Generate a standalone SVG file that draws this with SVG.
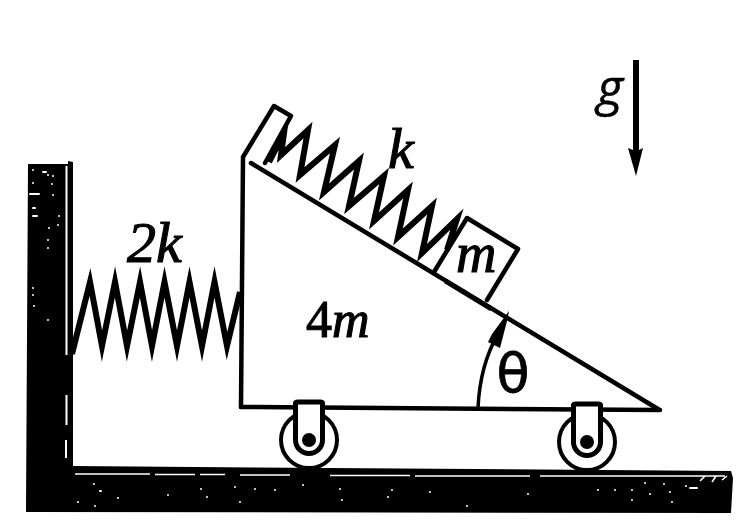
<svg xmlns="http://www.w3.org/2000/svg" width="740" height="521" viewBox="0 0 740 521">
<style>
.ln{fill:none;stroke:#000;stroke-width:4.5;stroke-linejoin:round;stroke-linecap:round}
.sp{fill:none;stroke:#000;stroke-width:6;stroke-linejoin:miter;stroke-miterlimit:30}
.speck{fill:none;stroke:#fff;stroke-width:2;stroke-linecap:round}
.wh{fill:#fff;stroke:#000;stroke-width:4}
text{font-family:"Liberation Serif",serif;fill:#000;stroke:#000;stroke-width:1.1}
.it{font-style:italic}
</style>
<defs>
<g id="wheel">
<circle class="wh" r="28"/>
<path d="M-13.5 -37 Q-13.500 -38 -11 -38 H11 Q13.500 -38 13.500 -37 V0 A13.500 13.500 0 0 1 -13.500 0 Z" fill="#fff" stroke="#000" stroke-width="5"/>
<circle r="7"/>
</g>
</defs>
<rect width="740" height="521" fill="#fff"/>
<g id="wall-ground">
<path d="M28 164 H68 L68 161 L73 162 V466 L731 471 L733 478 L731 513 L26 512 Z"/>
<path d="M66.500 166 V355 M66.500 395 V425 M66 440 V458" fill="none" stroke="#fff" stroke-width="2"/>
<path class="speck" d="M33 170h0M43 172h3M48 175h0M53 176h0M33 183h0M52 184h0M30 194h9M53 195h0M33 208h2M33 216h4M59 216h0M49 228h0M58 225h0M48 240h0M48 248h0M33 288h0M33 295h0M34 306h0M48 320h0M94 484h0M100 491h1M78 502h0M95 506h0M118 498h0M168 495h0M201 489h0M207 497h0M235 487h0M240 502h0M255 489h0M275 490h0M303 485h0M340 489h0M342 500h0M392 490h0M388 497h0M430 492h0M467 506h0M528 494h0M632 490h0M645 483h0M632 500h0M650 494h0M672 502h0M598 490h0M615 490h0M664 484h0M670 492h0M686 486h0M690 488h7"/>
<path d="M75 474H150M155 474.500H195M200 474.500H225M240 475H290M330 475.500H410M415 476H530M540 476H725M700 481l5-5M712 482l4-6M722 480l5-4" fill="none" stroke="#fff" stroke-width="1.600"/>
</g>
<g id="connectors">
<path id="spring-2k" class="sp" d="M72 354 L90 282 L102 346 L115 282 L127 346 L140 282 L152 346 L164.500 282 L177 346 L189.500 282 L202 346 L214.500 282 L227 346 L240 292"/>
<path id="spring-k" class="sp" d="M269 162 L284 133 L281 155 L308 130 L300 175 L335 145 L324 192 L359 161 L349 206 L384 176 L374 221 L408 190 L398 237 L432 206 L422 253 L457 219 L447 250"/>
</g>
<g id="wedge">
<path class="ln" d="M241 407 L243 157 L274 106 L291 116 L265 163"/>
<path class="ln" d="M251 163 L658 409"/>
<path class="ln" d="M241 407 L660 410"/>
<path d="M444 283 L490 311 L493 307 L447 279 Z"/>
</g>
<g id="mass">
<path class="ln" d="M434 272 L467 218 L518 249 L487 300"/>
<text class="it" x="456" y="272" font-size="56">m</text>
</g>
<g id="angle">
<path d="M478 408 Q480 365 498 334" fill="none" stroke="#000" stroke-width="3.500"/>
<path d="M509 311 L507 321 L500 348 L488 342 L492 334 Z"/>
<text x="513" y="392" font-size="54" text-anchor="middle" style="font-family:'DejaVu Sans',sans-serif;stroke-width:.8">θ</text>
</g>
<g id="wheel-left"><use href="#wheel" x="309" y="440"/></g>
<g id="wheel-right"><use href="#wheel" x="587" y="442"/></g>
<g id="gravity">
<path d="M633 60 H639 V150 L643 148 L636 176 L628 148 L633 150 Z"/>
<text class="it" x="597" y="105" font-size="50" style="font-family:'Open Sans',sans-serif;stroke-width:.5">g</text>
</g>
<g id="labels">
<text class="it" x="388" y="168" font-size="58">k</text>
<text x="127" y="262" font-size="58" class="it">2k</text>
<text x="306" y="337" font-size="52">4<tspan class="it">m</tspan></text>
</g>
</svg>
